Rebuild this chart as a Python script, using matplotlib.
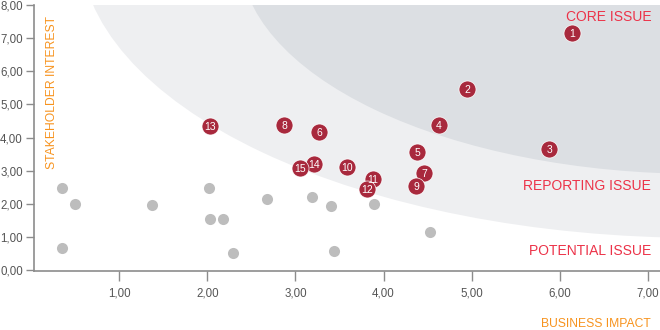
import numpy as np
import matplotlib
matplotlib.use("Agg")
import matplotlib.pyplot as plt
from matplotlib.patches import Ellipse

plt.rcParams['font.family'] = ['Liberation Sans', 'DejaVu Sans']

# material issues (numbered, red)
issue_ids = [1, 2, 3, 4, 5, 6, 7, 8, 9, 10, 11, 12, 13, 14, 15]
issue_x = [6.14, 4.95, 5.88, 4.63, 4.38, 3.27, 4.46, 2.87, 4.37, 3.59, 3.88, 3.81, 2.03, 3.21, 3.05]
issue_y = [7.16, 5.47, 3.66, 4.38, 3.57, 4.17, 2.93, 4.38, 2.54, 3.11, 2.75, 2.45, 4.35, 3.20, 3.08]

# other (grey) issues
other_x = [0.35, 0.50, 0.35, 1.37, 2.02, 2.03, 2.18, 2.29, 2.68, 3.19, 3.40, 3.44, 3.89, 4.53]
other_y = [2.48, 1.99, 0.66, 1.96, 2.48, 1.54, 1.54, 0.51, 2.15, 2.21, 1.93, 0.57, 2.00, 1.15]

x_ticks = [1, 2, 3, 4, 5, 6, 7]
y_ticks = [0, 1, 2, 3, 4, 5, 6, 7, 8]

zones = ["CORE ISSUE", "REPORTING ISSUE", "POTENTIAL ISSUE"]
zone_y = [7.63, 2.55, 0.56]

RED = '#a8293d'
ZONE_RED = '#ec3349'
ORANGE = '#f7931e'
GREY = '#bdbdbd'
AXIS = '#8c8c8c'

fig = plt.figure(figsize=(6.6, 3.3), dpi=100)
ax = fig.add_axes([34 / 660, 1 - 271 / 330, 626 / 660, 266 / 330])
ax.set_xlim(0.03, 7.14)
ax.set_ylim(-0.03, 8.0)

# background zones (quarter ellipses from the top right corner)
ax.add_patch(Ellipse((7.60, 9.82), 2 * 7.05, 2 * 8.85, facecolor='#eeeff1',
                     edgecolor='none', zorder=0))
ax.add_patch(Ellipse((7.60, 9.52), 2 * 5.23, 2 * 6.62, facecolor='#dcdfe3',
                     edgecolor='none', zorder=0))

ax.scatter(other_x, other_y, s=64, color=GREY, linewidths=0, zorder=3)
ax.scatter(issue_x, issue_y, s=150, color=RED, edgecolors='white',
           linewidths=0.5, zorder=4)
for i, x, y in zip(issue_ids, issue_x, issue_y):
    ax.text(x, y, str(i), color='white', fontsize=7.5, ha='center',
            va='center_baseline', zorder=5)

for name, y in zip(zones, zone_y):
    ax.text(7.04, y, name, color=ZONE_RED, fontsize=10, ha='right', va='center')

ax.text(0.23, 7.68, "STAKEHOLDER INTEREST", color=ORANGE, fontsize=8.7,
        rotation=90, ha='center', va='top')
ax.text(0.9856, -0.20, "BUSINESS IMPACT", color=ORANGE, fontsize=8.7,
        ha='right', va='center', transform=ax.transAxes)

ax.set_xticks(x_ticks)
ax.set_yticks(y_ticks)
ax.set_xticklabels([f"{v:.2f}".replace('.', ',') for v in x_ticks])
ax.set_yticklabels([f"{v:.2f}".replace('.', ',') for v in y_ticks])

for side in ['top', 'right']:
    ax.spines[side].set_visible(False)
for side in ['left', 'bottom']:
    ax.spines[side].set_color(AXIS)
    ax.spines[side].set_linewidth(1.2)

ax.tick_params(axis='y', length=6, width=1, color=AXIS, pad=2,
               labelsize=8.3, labelcolor='#555555')
ax.tick_params(axis='x', length=7, width=1, color=AXIS, pad=5,
               labelsize=8.3, labelcolor='#555555')

fig.savefig('out.png', dpi=100)
